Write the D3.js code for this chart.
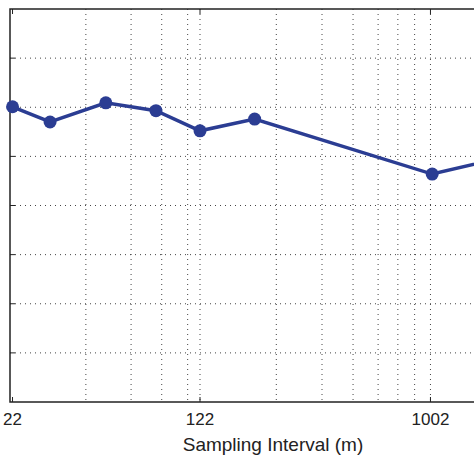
<!DOCTYPE html><html><head><script src="https://cdn.jsdelivr.net/npm/d3@7"></script>
<style>body{margin:0;background:#fff}text{font-family:"Liberation Sans",Arial,sans-serif}</style></head><body>
<svg id="c" width="474" height="474"></svg>
<script>
const intervals=[22,31,51.6,81.6,122,201,1018,1916];
const values=[6.01,5.70,6.09,5.93,5.52,5.76,4.64,4.97];
const xTickLabels=[22,122,1002];
const xMinor=[43,65,86,109,245,372,494,621,744,867,1002];
const yGrid=[1,2,3,4,5,6,7];
const svg=d3.select("#c");
const L=10,T=9,B=402,R=520;
const x=d3.scaleLog().domain([122*Math.pow(10,-190/252),122*Math.pow(10,320/252)]).range([L,R]);
const y=d3.scaleLinear().domain([0,8]).range([B,T]);
const g=svg.append("g");
g.selectAll(".vx").data(xMinor.concat([122])).join("line").attr("x1",d=>x(d)).attr("x2",d=>x(d)).attr("y1",T).attr("y2",B).attr("stroke","#444").attr("stroke-width",1).attr("stroke-dasharray","1,4");
g.selectAll(".hy").data(yGrid).join("line").attr("x1",L).attr("x2",R).attr("y1",d=>y(d)).attr("y2",d=>y(d)).attr("stroke","#444").attr("stroke-width",1).attr("stroke-dasharray","1,4");
g.selectAll(".yt").data(yGrid).join("line").attr("x1",L).attr("x2",L+5).attr("y1",d=>y(d)).attr("y2",d=>y(d)).attr("stroke","#222");
g.selectAll(".xt").data(xTickLabels).join("line").attr("x1",d=>x(d)).attr("x2",d=>x(d)).attr("y1",B).attr("y2",B-5).attr("stroke","#222");
g.selectAll(".xt2").data(xTickLabels).join("line").attr("x1",d=>x(d)).attr("x2",d=>x(d)).attr("y1",T).attr("y2",T+5).attr("stroke","#222");
svg.append("rect").attr("x",L).attr("y",T).attr("width",R-L).attr("height",B-T).attr("fill","none").attr("stroke","#222").attr("stroke-width",1.5);
svg.selectAll(".xl").data(xTickLabels).join("text").attr("x",d=>x(d)).attr("y",425).attr("text-anchor","middle").attr("font-size",17).attr("fill","#222").text(d=>d);
svg.append("text").attr("x",273).attr("y",451).attr("text-anchor","middle").attr("font-size",19).attr("fill","#222").text("Sampling Interval (m)");
const pts=intervals.map((d,i)=>[x(d),y(values[i])]);
svg.append("path").attr("d",d3.line()(pts)).attr("fill","none").attr("stroke","#2b3d93").attr("stroke-width",3.5);
svg.selectAll(".p").data(pts).join("circle").attr("cx",d=>d[0]).attr("cy",d=>d[1]).attr("r",6.5).attr("fill","#2b3d93");
</script></body></html>
